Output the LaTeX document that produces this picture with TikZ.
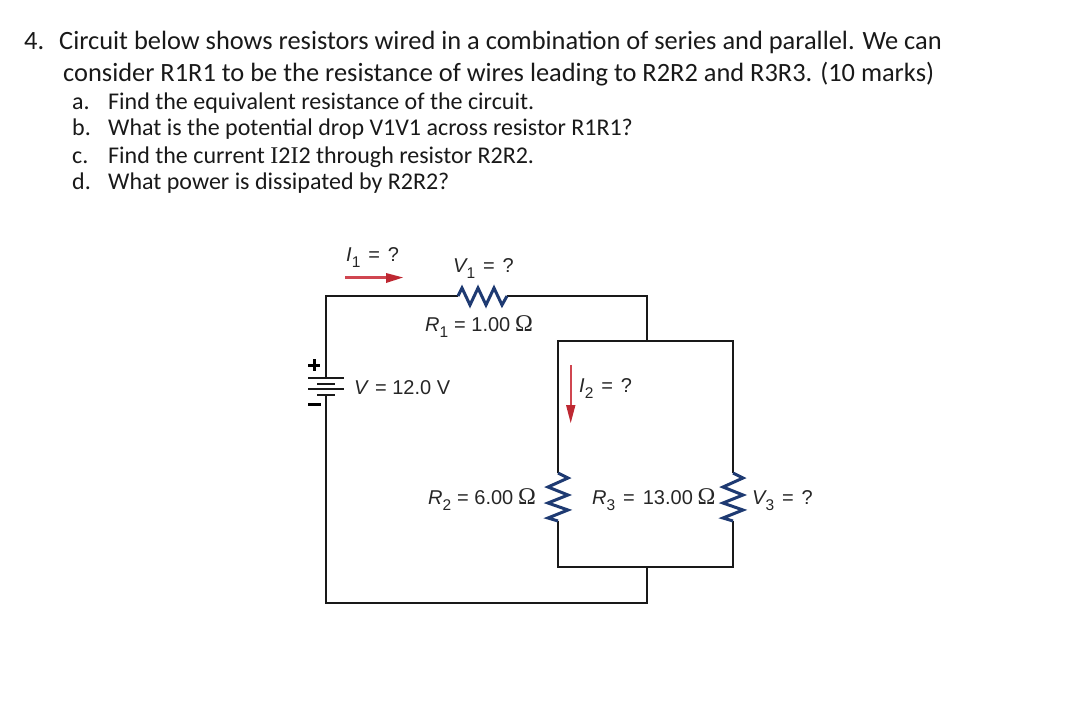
\documentclass[tikz,border=0pt]{standalone}
\usepackage{fontspec}
\setmainfont{Carlito}
\newfontfamily\lib{Liberation Sans}
\newfontfamily\omg{Liberation Serif}
\newcommand{\sym}[2]{{\itshape #1}\raisebox{-0.32em}{\fontsize{15.5}{15.5}\selectfont #2}}
\newcommand{\ohm}{{\omg\fontsize{24}{24}\selectfont\hspace{-0.03em}Ω}}
\newcommand{\eqq}{\hspace{0.12em} = \hspace{0.12em}}
\newcommand{\eqn}{\hspace{0.02em} = \hspace{0.0em}}
\newcommand{\seri}{{\omg I}}
\tikzset{
 wire/.style={line width=2pt,black!90,line join=miter},
 resistor/.style={line width=3pt,color={rgb,255:red,30;green,58;blue,114},line join=miter},
 curarrow/.style={line width=2.4pt,color={rgb,255:red,208;green,70;blue,80}},
 head/.style={fill={rgb,255:red,190;green,40;blue,50},draw=none},
 qtext/.style={anchor=base west,inner sep=0pt,font=\fontsize{26.4}{26.4}\selectfont,text=black!90},
 subtext/.style={anchor=base west,inner sep=0pt,font=\fontsize{24}{24}\selectfont,text=black!90},
 lab/.style={anchor=base west,inner sep=0pt,font=\lib\fontsize{20}{20}\selectfont,text=black!85},
 plate/.style={line width=2pt,black!90}
}
\begin{document}
\begin{tikzpicture}[x=1pt,y=-1pt]
\useasboundingbox (0,0) rectangle (1068,712);
\node[qtext] (q1n) at (24,49) {4.};
\node[qtext] (q1) at (59,49) {Circuit below shows resistors wired in a combination of series and parallel. We can};
\node[qtext] (q2) at (63,81) {consider R1R1 to be the resistance of wires leading to R2R2 and R3R3. (10 marks)};
\node[subtext] (an) at (72,109) {a.};
\node[subtext] (a) at (108,109) {Find the equivalent resistance of the circuit.};
\node[subtext] (bn) at (72,135) {b.};
\node[subtext] (b) at (108,135) {What is the potential drop V1V1 across resistor R1R1?};
\node[subtext] (cn) at (72,163) {c.};
\node[subtext] (c) at (108,163) {Find the current \seri2\seri2 through resistor R2R2.};
\node[subtext] (dn) at (72,189) {d.};
\node[subtext] (d) at (108,189) {What power is dissipated by R2R2?};
% circuit
\coordinate (TL) at (325.5,296);
\coordinate (TR) at (647,296);
\coordinate (BL) at (325.5,603);
\coordinate (BR) at (647,603);
\coordinate (PT) at (647,341);
\coordinate (PB) at (647,567);
\coordinate (R2T) at (558,341);
\coordinate (R3T) at (733,341);
\coordinate (R2B) at (558,567);
\coordinate (R3B) at (733,567);
\coordinate (R1a) at (458,296);
\coordinate (R1b) at (507,296);
\coordinate (BatT) at (325.5,378);
\coordinate (BatB) at (325.5,395);
\draw[wire] (BatT) -- (TL) -- (R1a);
\draw[wire] (R1b) -- (TR) -- (PT);
\draw[wire] (558,473) -- (R2T) -- (R3T) -- (733,473);
\draw[wire] (558,521) -- (R2B) -- (R3B) -- (733,521);
\draw[wire] (PB) -- (BR) -- (BL) -- (BatB);
\draw[resistor] (R1a) -- (462,288) -- (470,305) -- (478,288) -- (486,305) -- (494,288) -- (502,305) -- (R1b);
\draw[resistor] (558,473) -- (568,478) -- (548,487) -- (568,495) -- (548,503) -- (568,510) -- (548,518) -- (558,521);
\draw[resistor] (733,473) -- (743,478) -- (723,487) -- (743,495) -- (723,503) -- (743,510) -- (723,518) -- (733,521);
% battery
\draw[plate] (308,378) -- (344,378);
\draw[plate] (317,384) -- (335,384);
\draw[plate] (308,389) -- (344,389);
\draw[plate] (317,395) -- (335,395);
\draw[line width=3pt,black] (308,365) -- (320,365) (314,359) -- (314,371);
\draw[line width=3pt,black] (308,404) -- (321,404);
% arrows
\coordinate (A1s) at (345,277.5);
\coordinate (A1e) at (386,277.5);
\draw[curarrow] (A1s) -- (A1e);
\fill[head] (386,273) -- (403,277.5) -- (386,283) -- cycle;
\coordinate (A2s) at (570.7,365);
\coordinate (A2e) at (570.7,405);
\draw[curarrow] (A2s) -- (A2e);
\fill[head] (566,405) -- (570.7,423) -- (575.5,405) -- cycle;
% labels
\node[lab] (I1) at (346,261.5) {\sym{I}{1}\eqq?};
\node[lab] (V1) at (453,272) {\sym{V}{1}\eqq?};
\node[lab] (R1) at (425,331.5) {\sym{R}{1}\eqn1.00 \ohm};
\node[lab] (Vb) at (354,394.5) {\textit{V}\eqn12.0 V};
\node[lab] (I2) at (579,392) {\sym{I}{2}\eqq?};
\node[lab] (R2) at (428,504.5) {\sym{R}{2}\eqn6.00 \ohm};
\node[lab] (R3) at (592,504.5) {\sym{R}{3}\eqq13.00 \ohm};
\node[lab] (V3) at (752,504.5) {\sym{V}{3}\eqq?};
\end{tikzpicture}
\end{document}
